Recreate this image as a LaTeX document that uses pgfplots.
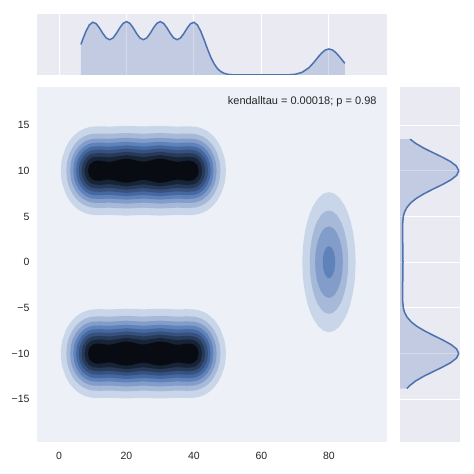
\documentclass[border=0pt]{standalone}
\usepackage{fontspec}
\setmainfont{Liberation Sans}
\usepackage{pgfplots}
\pgfplotsset{compat=1.18}
\usepackage{pgfplotstable}

\definecolor{c0}{RGB}{237,241,247}
\definecolor{c1}{RGB}{201,213,232}
\definecolor{c2}{RGB}{166,185,216}
\definecolor{c3}{RGB}{130,157,201}
\definecolor{c4}{RGB}{95,130,186}
\definecolor{c5}{RGB}{69,104,160}
\definecolor{c6}{RGB}{54,81,125}
\definecolor{c7}{RGB}{39,58,89}
\definecolor{c8}{RGB}{23,35,54}
\definecolor{c9}{RGB}{8,11,18}
\definecolor{deep}{RGB}{76,114,176}
\definecolor{mbg}{RGB}{234,234,242}
\definecolor{tk}{RGB}{38,38,38}

% contour polygons of the two ridges: x, offset from the ridge centre line
\pgfplotstableread{
x h
0.53 0
0.7 0.89
1 1.48
2 2.54
3 3.20
4 3.68
5 4.04
6 4.32
7 4.52
8 4.67
9 4.77
10 4.83
12 4.86
15 4.83
20 4.91
25 4.84
30 4.91
35 4.83
38 4.86
40 4.83
41 4.77
42 4.67
43 4.52
44 4.32
45 4.04
46 3.68
47 3.20
48 2.54
49 1.48
49.3 0.89
49.47 0
49.3 -0.89
49 -1.48
48 -2.54
47 -3.20
46 -3.68
45 -4.04
44 -4.32
43 -4.52
42 -4.67
41 -4.77
40 -4.83
38 -4.86
35 -4.83
30 -4.91
25 -4.84
20 -4.91
15 -4.83
12 -4.86
10 -4.83
9 -4.77
8 -4.67
7 -4.52
6 -4.32
5 -4.04
4 -3.68
3 -3.20
2 -2.54
1 -1.48
0.7 -0.89
}\LvA
\pgfplotstableread{
x h
2.16 0
2.4 0.98
3 1.78
4 2.54
5 3.04
6 3.40
7 3.66
8 3.84
9 3.97
10 4.04
12 4.07
15 4.04
20 4.13
25 4.04
30 4.13
35 4.04
38 4.07
40 4.04
41 3.97
42 3.84
43 3.66
44 3.40
45 3.04
46 2.54
47 1.78
47.6 0.98
47.84 0
47.6 -0.98
47 -1.78
46 -2.54
45 -3.04
44 -3.40
43 -3.66
42 -3.84
41 -3.97
40 -4.04
38 -4.07
35 -4.04
30 -4.13
25 -4.04
20 -4.13
15 -4.04
12 -4.07
10 -4.04
9 -3.97
8 -3.84
7 -3.66
6 -3.40
5 -3.04
4 -2.54
3 -1.78
2.4 -0.98
}\LvB
\pgfplotstableread{
x h
3.29 0
3.5 0.86
4 1.52
5 2.26
6 2.72
7 3.04
8 3.26
9 3.40
10 3.49
12 3.52
15 3.49
20 3.60
25 3.49
30 3.60
35 3.49
38 3.52
40 3.49
41 3.40
42 3.26
43 3.04
44 2.72
45 2.26
46 1.52
46.5 0.86
46.71 0
46.5 -0.86
46 -1.52
45 -2.26
44 -2.72
43 -3.04
42 -3.26
41 -3.40
40 -3.49
38 -3.52
35 -3.49
30 -3.60
25 -3.49
20 -3.60
15 -3.49
12 -3.52
10 -3.49
9 -3.40
8 -3.26
7 -3.04
6 -2.72
5 -2.26
4 -1.52
3.5 -0.86
}\LvC
\pgfplotstableread{
x h
4.22 0
4.5 0.92
5 1.48
6 2.12
7 2.51
8 2.78
9 2.94
10 3.04
12 3.08
15 3.04
20 3.16
25 3.04
30 3.16
35 3.04
38 3.08
40 3.04
41 2.94
42 2.78
43 2.51
44 2.12
45 1.48
45.5 0.92
45.78 0
45.5 -0.92
45 -1.48
44 -2.12
43 -2.51
42 -2.78
41 -2.94
40 -3.04
38 -3.08
35 -3.04
30 -3.16
25 -3.04
20 -3.16
15 -3.04
12 -3.08
10 -3.04
9 -2.94
8 -2.78
7 -2.51
6 -2.12
5 -1.48
4.5 -0.92
}\LvD
\pgfplotstableread{
x h
5.04 0
5.3 0.80
6 1.49
7 2.01
8 2.33
9 2.53
10 2.64
12 2.68
15 2.63
20 2.78
25 2.64
30 2.78
35 2.63
38 2.68
40 2.64
41 2.53
42 2.33
43 2.01
44 1.49
44.7 0.80
44.96 0
44.7 -0.80
44 -1.49
43 -2.01
42 -2.33
41 -2.53
40 -2.64
38 -2.68
35 -2.63
30 -2.78
25 -2.64
20 -2.78
15 -2.63
12 -2.68
10 -2.64
9 -2.53
8 -2.33
7 -2.01
6 -1.49
5.3 -0.80
}\LvE
\pgfplotstableread{
x h
5.85 0
6 0.59
6.3 0.97
7 1.48
8 1.89
9 2.13
10 2.26
12 2.31
15 2.25
20 2.42
25 2.26
30 2.42
35 2.25
38 2.31
40 2.26
41 2.13
42 1.89
43 1.48
43.7 0.97
44 0.59
44.15 0
44 -0.59
43.7 -0.97
43 -1.48
42 -1.89
41 -2.13
40 -2.26
38 -2.31
35 -2.25
30 -2.42
25 -2.26
20 -2.42
15 -2.25
12 -2.31
10 -2.26
9 -2.13
8 -1.89
7 -1.48
6.3 -0.97
6 -0.59
}\LvF
\pgfplotstableread{
x h
6.67 0
7 0.78
8 1.41
9 1.72
10 1.87
12 1.94
15 1.87
20 2.07
25 1.88
30 2.07
35 1.87
38 1.94
40 1.87
41 1.72
42 1.41
43 0.78
43.33 0
43 -0.78
42 -1.41
41 -1.72
40 -1.87
38 -1.94
35 -1.87
30 -2.07
25 -1.88
20 -2.07
15 -1.87
12 -1.94
10 -1.87
9 -1.72
8 -1.41
7 -0.78
}\LvG
\pgfplotstableread{
x h
7.54 0
8 0.79
9 1.26
10 1.47
12 1.55
15 1.46
20 1.71
25 1.48
30 1.71
35 1.46
38 1.55
40 1.47
41 1.26
42 0.79
42.46 0
42 -0.79
41 -1.26
40 -1.47
38 -1.55
35 -1.46
30 -1.71
25 -1.48
20 -1.71
15 -1.46
12 -1.55
10 -1.47
9 -1.26
8 -0.79
}\LvH
\pgfplotstableread{
x h
8.6 0
9 0.62
10 0.97
11 1.09
12 1.10
13 1.05
14 0.99
15 0.97
16 1.02
17 1.11
18 1.21
19 1.28
20 1.31
21 1.28
22 1.21
23 1.11
24 1.03
25 0.99
26 1.03
27 1.11
28 1.21
29 1.28
30 1.31
31 1.28
32 1.21
33 1.11
34 1.02
35 0.97
36 0.99
37 1.05
38 1.10
39 1.09
40 0.97
41 0.62
41.4 0
41 -0.62
40 -0.97
39 -1.09
38 -1.10
37 -1.05
36 -0.99
35 -0.97
34 -1.02
33 -1.11
32 -1.21
31 -1.28
30 -1.31
29 -1.28
28 -1.21
27 -1.11
26 -1.03
25 -0.99
24 -1.03
23 -1.11
22 -1.21
21 -1.28
20 -1.31
19 -1.28
18 -1.21
17 -1.11
16 -1.02
15 -0.97
14 -0.99
13 -1.05
12 -1.10
11 -1.09
10 -0.97
9 -0.62
}\LvI
% contour polygons of the cluster at (80, 0)
\pgfplotstableread{
x y
72.10 0
72.26 1.52
72.50 2.39
72.89 3.34
73.68 4.60
74.47 5.47
75.26 6.13
76.84 7.02
78.42 7.51
80 7.66
81.58 7.51
83.16 7.02
84.74 6.13
85.53 5.47
86.32 4.60
87.11 3.34
87.50 2.39
87.74 1.52
87.90 0
87.74 -1.52
87.50 -2.39
87.11 -3.34
86.32 -4.60
85.53 -5.47
84.74 -6.13
83.16 -7.02
81.58 -7.51
80 -7.66
78.42 -7.51
76.84 -7.02
75.26 -6.13
74.47 -5.47
73.68 -4.60
72.89 -3.34
72.50 -2.39
72.26 -1.52
}\EvA
\pgfplotstableread{
x y
74.30 0
74.41 1.12
74.59 1.76
74.87 2.46
75.44 3.39
76.01 4.03
76.58 4.52
77.72 5.18
78.86 5.54
80 5.65
81.14 5.54
82.28 5.18
83.42 4.52
83.99 4.03
84.56 3.39
85.13 2.46
85.41 1.76
85.59 1.12
85.70 0
85.59 -1.12
85.41 -1.76
85.13 -2.46
84.56 -3.39
83.99 -4.03
83.42 -4.52
82.28 -5.18
81.14 -5.54
80 -5.65
78.86 -5.54
77.72 -5.18
76.58 -4.52
76.01 -4.03
75.44 -3.39
74.87 -2.46
74.59 -1.76
74.41 -1.12
}\EvB
\pgfplotstableread{
x y
75.90 0
75.98 0.78
76.11 1.22
76.31 1.70
76.72 2.34
77.54 3.12
78.36 3.58
79.18 3.82
80 3.90
80.82 3.82
81.64 3.58
82.46 3.12
83.28 2.34
83.69 1.70
83.89 1.22
84.02 0.78
84.10 0
84.02 -0.78
83.89 -1.22
83.69 -1.70
83.28 -2.34
82.46 -3.12
81.64 -3.58
80.82 -3.82
80 -3.90
79.18 -3.82
78.36 -3.58
77.54 -3.12
76.72 -2.34
76.31 -1.70
76.11 -1.22
75.98 -0.78
}\EvC
\pgfplotstableread{
x y
78.16 0
78.20 0.34
78.25 0.54
78.34 0.75
78.53 1.04
78.90 1.38
79.26 1.59
79.63 1.70
80 1.73
80.37 1.70
80.74 1.59
81.10 1.38
81.47 1.04
81.66 0.75
81.75 0.54
81.80 0.34
81.84 0
81.80 -0.34
81.75 -0.54
81.66 -0.75
81.47 -1.04
81.10 -1.38
80.74 -1.59
80.37 -1.70
80 -1.73
79.63 -1.70
79.26 -1.59
78.90 -1.38
78.53 -1.04
78.34 -0.75
78.25 -0.54
78.20 -0.34
}\EvD
% top marginal density
\pgfplotstableread{
x d
6.5 30.6
7 35.3
8 43.8
9 50.1
10 52.7
11 51.4
12 47.0
13 41.5
14 37.0
15 35.3
16 37.0
17 41.5
18 47.1
19 51.6
20 53.4
21 51.6
22 47.1
23 41.5
24 37.0
25 35.3
26 37.0
27 41.5
28 47.1
29 51.6
30 53.4
31 51.6
32 47.1
33 41.5
34 37.0
35 35.3
36 37.0
37 41.5
38 47.0
39 51.4
40 52.7
41 50.1
42 43.8
43 35.3
44 26.0
45 17.6
46 11.0
47 6.2
48 3.3
49 1.6
50 0.7
51 0.3
52 0.1
53 0
60 0
66 0
68 0.15
70 0.72
72 2.6
74 7.1
75 10.6
76 14.6
77 18.8
78 22.5
79 25.1
80 26.0
81 25.1
82 22.5
83 18.8
84 14.6
84.7 11.7
}\TopM
% right marginal density
\pgfplotstableread{
d y
10.1 13.46
15.6 13
23.4 12.5
32.6 12
42.1 11.5
50.6 11
56.5 10.5
58.7 10
56.7 9.5
50.9 9
42.6 8.5
33.2 8
24.3 7.5
16.6 7
10.9 6.5
7.0 6
4.6 5.5
3.3 5
2.5 4
2.5 3
2.77 2
2.94 1
3.0 0
2.94 -1
2.77 -2
2.5 -3
2.5 -4
3.3 -5
4.6 -5.5
7.0 -6
10.9 -6.5
16.6 -7
24.3 -7.5
33.2 -8
42.6 -8.5
50.9 -9
56.7 -9.5
58.7 -10
56.5 -10.5
50.6 -11
42.1 -11.5
32.6 -12
23.4 -12.5
15.6 -13
9.7 -13.5
6.9 -13.82
}\RightM
\pgfplotstableread{
d y
0 13.46
10.1 13.46
15.6 13
23.4 12.5
32.6 12
42.1 11.5
50.6 11
56.5 10.5
58.7 10
56.7 9.5
50.9 9
42.6 8.5
33.2 8
24.3 7.5
16.6 7
10.9 6.5
7.0 6
4.6 5.5
3.3 5
2.5 4
2.5 3
2.77 2
2.94 1
3.0 0
2.94 -1
2.77 -2
2.5 -3
2.5 -4
3.3 -5
4.6 -5.5
7.0 -6
10.9 -6.5
16.6 -7
24.3 -7.5
33.2 -8
42.6 -8.5
50.9 -9
56.7 -9.5
58.7 -10
56.5 -10.5
50.6 -11
42.1 -11.5
32.6 -12
23.4 -12.5
15.6 -13
9.7 -13.5
6.9 -13.82
0 -13.82
}\RightF

\newcommand{\band}[2]{%
\addplot[fill=#2, draw=none] table[x=x, y expr=10+\thisrow{h}] {#1};
\addplot[fill=#2, draw=none] table[x=x, y expr=-10+\thisrow{h}] {#1};
}

\begin{document}
\begin{tikzpicture}
\path[use as bounding box] (0pt,0pt) rectangle (474pt,474pt);
\pgfplotsset{
  jstyle/.style={
    scale only axis,
    anchor=south west,
    axis line style={draw=none},
    major tick length=0pt,
    grid style={white, line width=1pt},
    tick label style={font=\fontsize{10.5}{12}\selectfont, text=tk},
  }
}
% main joint axis
\begin{axis}[jstyle,
  at={(37pt,32pt)}, width=350pt, height=355pt,
  xmin=-6.52, xmax=97.2, ymin=-19.67, ymax=19.16,
  axis background/.style={fill=c0},
  xtick={0,20,40,60,80}, xticklabels={0,20,40,60,80},
  ytick={-15,-10,-5,0,5,10,15},
  yticklabels={−15,−10,−5,0,5,10,15},
  xticklabel style={yshift=-6.5pt},
  yticklabel style={xshift=-4pt},
]
\band{\LvA}{c1}
\band{\LvB}{c2}
\band{\LvC}{c3}
\band{\LvD}{c4}
\band{\LvE}{c5}
\band{\LvF}{c6}
\band{\LvG}{c7}
\band{\LvH}{c8}
\band{\LvI}{c9}
\addplot[fill=c1, draw=none] table[x=x, y=y] {\EvA};
\addplot[fill=c2, draw=none] table[x=x, y=y] {\EvB};
\addplot[fill=c3, draw=none] table[x=x, y=y] {\EvC};
\addplot[fill=c4, draw=none] table[x=x, y=y] {\EvD};
\node[anchor=east, inner sep=0pt, font=\fontsize{11}{13}\selectfont, text=tk]
  at (rel axis cs:0.9706,0.9586) {kendalltau = 0.00018; p = 0.98};
\end{axis}
% top marginal
\begin{axis}[jstyle,
  at={(37pt,399pt)}, width=350pt, height=60.7pt,
  xmin=-6.52, xmax=97.2, ymin=0, ymax=60.7,
  axis background/.style={fill=mbg},
  xtick={0,20,40,60,80}, xticklabels={}, ytick=\empty,
  xmajorgrids,
]
\addplot[fill=deep, fill opacity=0.25, draw=none] table[x=x, y=d] {\TopM} \closedcycle;
\addplot[deep, line width=1.5pt] table[x=x, y=d] {\TopM};
\end{axis}
% right marginal
\begin{axis}[jstyle,
  at={(400pt,32pt)}, width=60pt, height=355pt,
  xmin=0, xmax=60, ymin=-19.67, ymax=19.16,
  axis background/.style={fill=mbg},
  ytick={-15,-10,-5,0,5,10,15}, yticklabels={}, xtick=\empty,
  ymajorgrids,
]
\addplot[fill=deep, fill opacity=0.25, draw=none] table[x=d, y=y] {\RightF};
\addplot[deep, line width=1.5pt] table[x=d, y=y] {\RightM};
\end{axis}
\end{tikzpicture}
\end{document}
